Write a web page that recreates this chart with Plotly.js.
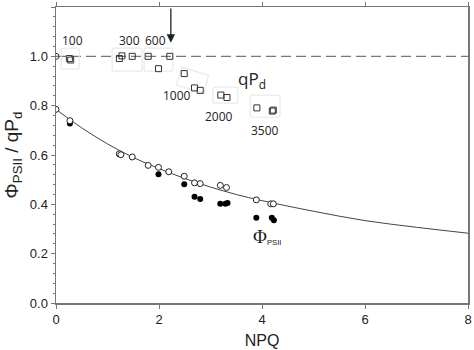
<!DOCTYPE html>
<html><head><meta charset="utf-8">
<script src="https://cdn.plot.ly/plotly-3.0.1.min.js"></script>
<style>html,body{margin:0;padding:0;background:#fff}#c{width:474px;height:350px}</style>
</head><body><div id="c"></div>
<script>
// Open circles: PhiPSII / qPd ratio
const npqRatio = [0, 0.27, 1.23, 1.26, 1.48, 1.79, 1.99, 2.19, 2.49, 2.69, 2.80, 3.19, 3.31, 3.89, 4.17, 4.22];
const ratio    = [0.785, 0.739, 0.605, 0.601, 0.592, 0.558, 0.550, 0.532, 0.514, 0.487, 0.484, 0.477, 0.468, 0.418, 0.402, 0.402];
// Filled circles: PhiPSII
const npqPhi = [0.27, 1.23, 1.99, 2.49, 2.69, 2.80, 3.19, 3.29, 3.33, 3.89, 4.19, 4.23];
const phiPSII = [0.728, 0.603, 0.522, 0.481, 0.431, 0.422, 0.402, 0.402, 0.405, 0.346, 0.346, 0.335];
// Squares: qPd
const npqQ = [0, 0.26, 0.285, 1.23, 1.28, 1.48, 1.79, 1.99, 2.21, 2.49, 2.69, 2.80, 3.20, 3.32, 3.90, 4.20, 4.22];
const qPd  = [1.0, 0.991, 0.985, 0.991, 1.002, 1.0, 1.0, 0.950, 1.0, 0.930, 0.872, 0.862, 0.843, 0.833, 0.791, 0.778, 0.782];
// Fitted curve
const npqFit = [0, 0.5, 1, 1.5, 2, 2.5, 3, 3.5, 4, 5, 6, 7, 8];
const fit    = [0.785, 0.710, 0.645, 0.590, 0.545, 0.505, 0.470, 0.440, 0.415, 0.372, 0.334, 0.307, 0.283];
// Light intensity labels
const lightLabels = ["100", "300", "600", "1000", "2000", "3500"];
const lightX = [0.32, 1.43, 1.93, 2.34, 3.16, 4.06];
const lightY = [1.065, 1.065, 1.065, 0.84, 0.755, 0.70];
const xTicks = [0, 2, 4, 6, 8];
const yTicks = [0, 0.2, 0.4, 0.6, 0.8, 1.0, 1.2];

const traces = [
  {x: npqFit, y: fit, mode: 'lines', line: {color: '#444', width: 1, shape: 'spline'}, hoverinfo: 'skip'},
  {x: npqQ, y: qPd, mode: 'markers',
   marker: {symbol: npqQ.map((v, i) => i === 0 ? 'circle-open' : 'square-open'), size: 6, color: '#333', line: {width: 1}}},
  {x: npqPhi, y: phiPSII, mode: 'markers', marker: {symbol: 'circle', size: 6, color: '#000'}},
  {x: npqRatio, y: ratio, mode: 'markers', marker: {symbol: 'circle', size: 6, color: '#fff', line: {color: '#222', width: 1}}}
];

const boxLine = {color: '#e9e9e9', width: 1.2};
function rbox(x0, x1, y0, y1) {
  const rx = 0.05, ry = 0.008;
  return {type: 'path', line: boxLine, layer: 'below',
    path: `M ${x0 + rx} ${y0} L ${x1 - rx} ${y0} Q ${x1} ${y0} ${x1} ${y0 + ry} L ${x1} ${y1 - ry} Q ${x1} ${y1} ${x1 - rx} ${y1} L ${x0 + rx} ${y1} Q ${x0} ${y1} ${x0} ${y1 - ry} L ${x0} ${y0 + ry} Q ${x0} ${y0} ${x0 + rx} ${y0} Z`};
}
const shapes = [
  {type: 'line', xref: 'paper', x0: 0, x1: 1, yref: 'y', y0: 1, y1: 1, line: {color: '#777', width: 1.3, dash: '10px,5px'}, layer: 'below'},
  rbox(0.10, 0.45, 0.948, 1.033),
  rbox(1.09, 1.67, 0.940, 1.033),
  rbox(1.71, 2.27, 0.940, 1.033),
  {type: 'path', path: 'M 2.44 0.957 L 2.96 0.923 L 2.88 0.850 L 2.34 0.883 Z', line: boxLine, layer: 'below'},
  rbox(3.05, 3.53, 0.810, 0.875),
  rbox(3.77, 4.35, 0.753, 0.843)
];

const lblFont = {family: 'Open Sans, sans-serif', size: 12, color: '#222'};
const annotations = lightLabels.map((t, i) => ({x: lightX[i], y: lightY[i], text: t, showarrow: false, font: lblFont}));
annotations.push({x: 3.8, y: 0.905, text: 'qP<sub>d</sub>', showarrow: false, font: {family: 'Open Sans, sans-serif', size: 17, color: '#222'}});
annotations.push({x: 4.1, y: 0.27, text: '<span style="font-family:Liberation Serif;font-size:19px">Φ</span><sub>PSII</sub>', showarrow: false, font: {family: 'Liberation Sans, sans-serif', size: 11, color: '#222'}});
annotations.push({x: 2.23, y: 1.055, ax: 2.23, ay: 1.2, axref: 'x', ayref: 'y', xref: 'x', yref: 'y', text: '', showarrow: true, arrowhead: 2, arrowsize: 1.3, arrowwidth: 1.3, arrowcolor: '#222'});

const axisCommon = {showgrid: false, zeroline: false, showline: true, linecolor: '#777', linewidth: 1.5,
  ticks: 'outside', ticklen: 4, tickcolor: '#777', tickfont: {family: 'Liberation Sans, Arial, sans-serif', size: 13, color: '#222'}};

const layout = {
  width: 474, height: 350,
  margin: {l: 56, r: 6, t: 7, b: 47},
  paper_bgcolor: '#fff', plot_bgcolor: '#fff',
  showlegend: false,
  xaxis: Object.assign({}, axisCommon, {range: [0, 8], tickvals: xTicks, mirror: 'ticks',
    title: {text: 'NPQ', font: {family: 'Liberation Sans, Arial, sans-serif', size: 16, color: '#222'}, standoff: 8}}),
  yaxis: Object.assign({}, axisCommon, {range: [0, 1.2], tickvals: yTicks, tickformat: '.1f', mirror: true,
    minor: {dtick: 0.04, ticks: 'outside', ticklen: 2, tickcolor: '#777'},
    title: {text: 'Φ<sub>PSII</sub> / qP<sub>d</sub>', font: {family: 'Liberation Sans, Arial, sans-serif', size: 19, color: '#222'}, standoff: 6}}),
  shapes: shapes,
  annotations: annotations
};

Plotly.newPlot('c', traces, layout, {displayModeBar: false, staticPlot: true});
</script></body></html>
